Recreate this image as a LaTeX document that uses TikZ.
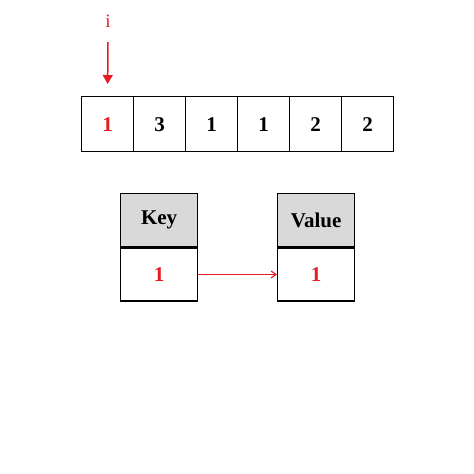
\documentclass[tikz,border=0pt]{standalone}
\usepackage{fontspec}
\setmainfont{Liberation Serif}
\usetikzlibrary{arrows.meta}
\definecolor{hred}{RGB}{230,30,35}
\definecolor{hgray}{RGB}{217,217,217}
\begin{document}
\begin{tikzpicture}[x=1pt,y=-1pt,
  cell/.style={draw=black,line width=1.3pt,minimum width=52pt,minimum height=55pt,inner sep=0pt,font=\bfseries\fontsize{21}{21}\selectfont,anchor=north west},
  hdr/.style={draw=black,line width=1.3pt,fill=hgray,minimum width=77pt,minimum height=53pt,inner sep=0pt,font=\bfseries\fontsize{21}{21}\selectfont,anchor=north west},
  val/.style={draw=black,line width=1.3pt,minimum width=77pt,minimum height=53pt,inner sep=0pt,font=\bfseries\fontsize{21}{21}\selectfont,anchor=north west,text=hred},
  redarrow/.style={draw=hred,line width=1.5pt,-{Triangle[length=9pt,width=10pt]}},
  thinarrow/.style={draw=hred,line width=1.1pt,-{Straight Barb[length=5pt,width=7pt]}}]
\useasboundingbox (0,0) rectangle (474,474);
\node[cell,text=hred] (c0) at (81,96) {1};
\node[cell] (c1) at (133,96) {3};
\node[cell] (c2) at (185,96) {1};
\node[cell] (c3) at (237,96) {1};
\node[cell] (c4) at (289,96) {2};
\node[cell] (c5) at (341,96) {2};
\node[text=hred,font=\fontsize{19}{19}\selectfont,inner sep=0pt] (i) at (108,21) {i};
\coordinate (itop) at (108,42);
\draw[redarrow] (itop) -- ([yshift=12pt]c0.north);
\node[hdr] (key) at (120,193) {Key};
\node[val,anchor=north] (kv) at (key.south) {1};
\node[hdr] (value) at (277,193) {Value};
\node[val,anchor=north] (vv) at (value.south) {1};
\draw[thinarrow] (kv.east) -- (vv.west);
\end{tikzpicture}
\end{document}
